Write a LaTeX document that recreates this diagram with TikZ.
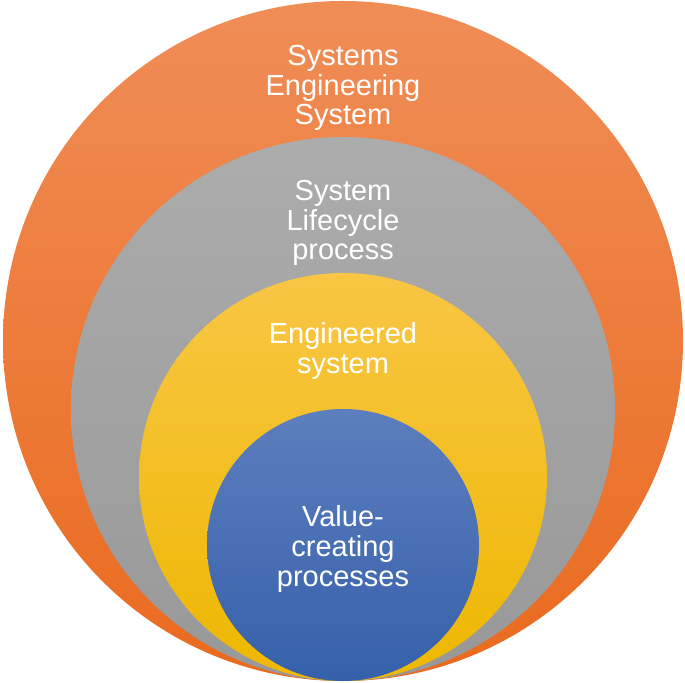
\documentclass[tikz,border=0pt]{standalone}
\usepackage{fontspec}
\setmainfont{Liberation Sans}
\definecolor{orangetop}{HTML}{F08D57}
\definecolor{orangebot}{HTML}{EA6A1E}
\definecolor{graytop}{HTML}{ACACAC}
\definecolor{graybot}{HTML}{989898}
\definecolor{yellowtop}{HTML}{F9C645}
\definecolor{yellowbot}{HTML}{EDB700}
\definecolor{bluetop}{HTML}{5D7EBE}
\definecolor{bluebot}{HTML}{3560AA}
\tikzset{
  ringlabel/.style={text=white,align=center,
    font=\fontsize{16.5}{17}\selectfont}
}
\begin{document}
\begin{tikzpicture}[x=0.02cm,y=0.02cm]
  \useasboundingbox (0,0) rectangle (685,682);
  \shade[top color=orangetop,bottom color=orangebot] (343,341) circle(340);
  \shade[top color=graytop,bottom color=graybot] (343,273) circle(272);
  \shade[top color=yellowtop,bottom color=yellowbot] (343,205) circle(204);
  \shade[top color=bluetop,bottom color=bluebot] (343,137) circle(136);
  \node[ringlabel] (ses) at (343,594) {Systems\\Engineering\\System};
  \node[ringlabel] (slp) at (343,459) {System\\Lifecycle\\process};
  \node[ringlabel] (eng) at (343,331) {Engineered\\system};
  \node[ringlabel] (vcp) at (343,133) {Value-\\creating\\processes};
\end{tikzpicture}
\end{document}
